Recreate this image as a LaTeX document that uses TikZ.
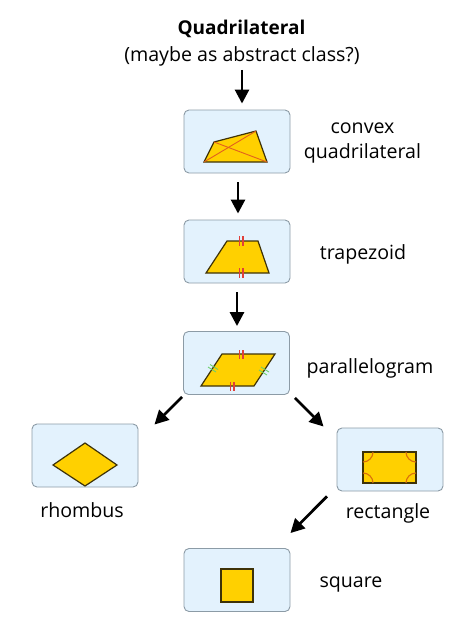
\documentclass[tikz,border=0pt]{standalone}
\usepackage{fontspec}
\setmainfont{Open Sans}
\usetikzlibrary{arrows.meta,calc}
\definecolor{boxfill}{HTML}{E3F2FD}
\definecolor{boxline}{HTML}{8C9BA6}
\definecolor{shapefill}{HTML}{FFD000}
\definecolor{shapeline}{HTML}{3E3208}
\definecolor{tickred}{HTML}{E0403A}
\definecolor{tickgreen}{HTML}{6CCF6C}
\definecolor{diag}{HTML}{E2601E}
\definecolor{corner}{HTML}{D9700C}
\tikzset{
  panel/.style={draw=boxline,fill=boxfill,line width=0.9pt,rounded corners=5pt,minimum width=106pt,minimum height=63pt,inner sep=0pt},
  figure/.style={draw=shapeline,fill=shapefill,line width=1.2pt,line join=miter},
  flow/.style={line width=2.8pt,-{Triangle[length=14pt,width=14pt]}},
  label/.style={font=\fontsize{19.6}{25}\selectfont,align=center,inner sep=0pt,anchor=base},
  redtick/.style={draw=tickred,line width=1.1pt},
  greentick/.style={draw=tickgreen,line width=0.9pt},
  diagonal/.style={draw=diag,line width=0.9pt},
  arcmark/.style={draw=corner,line width=1.1pt}
}
\begin{document}
\begin{tikzpicture}[x=1pt,y=-1pt]
\useasboundingbox (0,0) rectangle (474,640);
% titles
\node[label,font=\fontsize{19}{23}\selectfont\bfseries] (title) at (241.5,34) {Quadrilateral};
\node[label] (subtitle) at (242,61) {(maybe as abstract class?)};
% panels
\node[panel] (convex) at (237,141.5) {};
\node[panel] (trap) at (237,251.5) {};
\node[panel] (para) at (236.5,363) {};
\node[panel] (rhomb) at (85,455.5) {};
\node[panel] (rect) at (390,459.5) {};
\node[panel] (sq) at (237,580) {};
% convex quadrilateral
\draw[figure] (204,162) -- (214,142) -- (256,131) -- (267,162) -- cycle;
\draw[diagonal] (204,162) -- (256,131);
\draw[diagonal] (214,142) -- (267,162);
% trapezoid
\draw[figure] (206,273) -- (227,241) -- (258,241) -- (269,273) -- cycle;
\draw[redtick] (239.5,236) -- (239.5,246) (243,236) -- (243,246);
\draw[redtick] (239.5,268) -- (239.5,278) (243,268) -- (243,278);
% parallelogram
\draw[figure] (201,386) -- (222,354) -- (275,354) -- (254,386) -- cycle;
\draw[redtick] (239.5,350) -- (239.5,359) (243,350) -- (243,359);
\draw[redtick] (230.5,382) -- (230.5,391) (234,382) -- (234,391);
\draw[greentick] (208,367) -- (216,372);
\draw[greentick] (210,364.5) -- (218,369.5);
\draw[greentick] (259,370) -- (267,375);
\draw[greentick] (261,367) -- (269,372);
% rhombus
\draw[figure] (53,465) -- (85,443) -- (117,465) -- (85,486) -- cycle;
% rectangle
\draw[figure] (363,452) rectangle (416,483);
\draw[arcmark] (363,462) arc[start angle=90,end angle=0,radius=10];
\draw[arcmark] (406,452) arc[start angle=180,end angle=90,radius=10];
\draw[arcmark] (363,473) arc[start angle=270,end angle=360,radius=10];
\draw[arcmark] (406,483) arc[start angle=180,end angle=270,radius=10];
% square
\draw[figure] (221,569) rectangle (253,602);
% labels
\node[label] (lconvex) at (362.5,133) {convex};
\node[label] (lquad) at (362.5,158) {quadrilateral};
\node[label] (ltrap) at (363,259) {trapezoid};
\node[label] (lpara) at (370,373) {parallelogram};
\node[label] (lrhomb) at (82,517) {rhombus};
\node[label] (lrect) at (388,518) {rectangle};
\node[label] (lsq) at (351,587) {square};
% arrows
\draw[flow] ([shift={(0,4)}]subtitle.south) -- ([shift={(0,-6)}]subtitle.south |- convex.north);
\draw[flow,shorten <=9pt,shorten >=6pt] ([xshift=1pt]convex.south) -- ([xshift=1pt]trap.north);
\draw[flow,shorten <=9pt,shorten >=5pt] (trap.south) -- (trap.south |- para.north);
\draw[flow] ([shift={(-1,2)}]para.south west) -- ([shift={(16,1)}]rhomb.north east);
\draw[flow] ([shift={(5,3)}]para.south east) -- ([shift={(-13,-1)}]rect.north west);
\draw[flow] ([shift={(-63,5)}]rect.south) -- ([shift={(0,-15)}]sq.north east);
\end{tikzpicture}
\end{document}
